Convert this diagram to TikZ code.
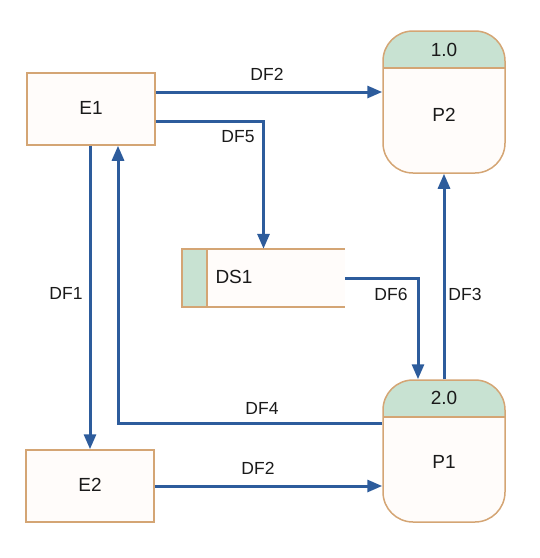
\documentclass[tikz,border=0pt]{standalone}
\usepackage{fontspec}
\setmainfont{Liberation Sans}
\usetikzlibrary{arrows.meta,calc}
\definecolor{bord}{HTML}{D4A574}
\definecolor{hdr}{HTML}{C8E2D2}
\definecolor{bodyfill}{HTML}{FFFCFA}
\definecolor{flowblue}{HTML}{2D5C9C}
\definecolor{txt}{HTML}{1A1A1A}
\tikzset{
  entity/.style={draw=bord, fill=bodyfill, line width=1.5pt, minimum width=128pt, minimum height=72pt, inner sep=0pt},
  proc/.style={draw=bord, fill=bodyfill, line width=1.5pt, rounded corners=30pt, minimum width=122pt, minimum height=142pt, inner sep=0pt,
    path picture={\fill[hdr, sharp corners] (path picture bounding box.north west) rectangle ([yshift=-37pt]path picture bounding box.north east);
                  \draw[bord, line width=1.5pt, sharp corners] ([yshift=-37pt]path picture bounding box.north west) -- ([yshift=-37pt]path picture bounding box.north east);}},
  flow/.style={draw=flowblue, line width=3pt, -{Triangle[length=15pt,width=12pt]}},
  lbl/.style={font=\fontsize{17.5}{20}\selectfont, text=txt, inner sep=0pt},
  ttl/.style={font=\fontsize{19}{22}\selectfont, text=txt, inner sep=0pt}
}
\begin{document}
\begin{tikzpicture}[x=1pt,y=-1pt]
\useasboundingbox (0,0) rectangle (540,558);
% nodes
\node[entity] (E1) at (91,109) {};
\node[ttl] (E1t) at (91,108) {E1};
\node[entity] (E2) at (90,486) {};
\node[ttl] (E2t) at (90,485) {E2};
\node[proc] (P2) at (444,102) {};
\node[ttl] (P2h) at (444,50) {1.0};
\node[ttl] (P2t) at (444,115) {P2};
\node[proc] (P1) at (444,451) {};
\node[ttl] (P1h) at (444,398) {2.0};
\node[ttl] (P1t) at (444,462) {P1};
% data store
\node[minimum width=163pt, minimum height=58pt, inner sep=0pt, fill=bodyfill] (DS1) at (263.5,278) {};
\filldraw[draw=bord, fill=hdr, line width=1.5pt] (DS1.north west) rectangle ([xshift=25pt]DS1.south west);
\draw[bord, line width=1.5pt] (DS1.north west) -- (DS1.north east);
\draw[bord, line width=1.5pt] (DS1.south west) -- (DS1.south east);
\node[ttl] (DS1t) at (234,277) {DS1};
% flows
\draw[flow] ([yshift=17pt]E1.east) -- ([yshift=17pt]E1.east -| P2.west);
\draw[flow] ([yshift=-12pt]E1.east) -| (DS1.north);
\draw[flow] ([xshift=-1pt]E1.south) -- (E2.north);
\draw[flow] ([yshift=28pt]P1.west) -| ([xshift=27pt]E1.south);
\draw[flow] (E2.east) -- (E2.east -| P1.west);
\draw[flow] (DS1.east) -| ([xshift=-26pt]P1.north);
\draw[flow] (P1.north) -- (P2.south);
% labels
\node[lbl] (l1) at (267,74) {DF2};
\node[lbl] (l2) at (238,137) {DF5};
\node[lbl] (l3) at (66,293) {DF1};
\node[lbl] (l4) at (262,408) {DF4};
\node[lbl] (l5) at (258,468) {DF2};
\node[lbl] (l6) at (391,294) {DF6};
\node[lbl] (l7) at (465,294) {DF3};
\end{tikzpicture}
\end{document}
